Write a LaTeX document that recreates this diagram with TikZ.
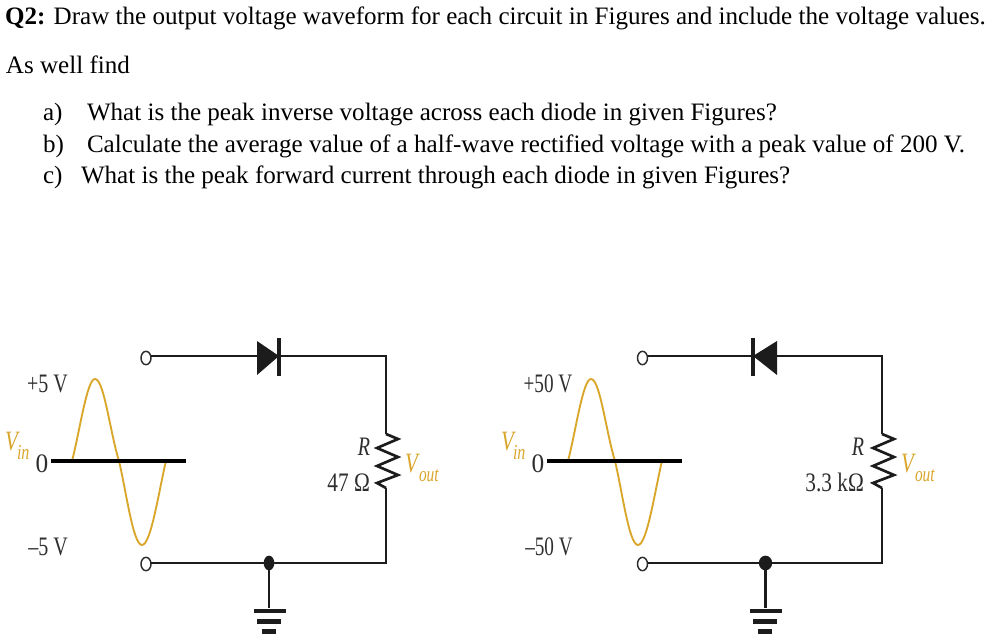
\documentclass[tikz,border=0pt]{standalone}
\usepackage{fontspec}
\setmainfont{Liberation Serif}
\definecolor{gold}{HTML}{D9A62A}
\definecolor{ink}{HTML}{1C1C1C}
\definecolor{lab}{HTML}{2E2E2E}
\newcommand{\nar}[2][.75]{\scalebox{#1}[1]{#2}}
\newcommand{\sinepath}{(72,461) .. controls (80,430) and (87,379) .. (95,379) .. controls (104,379) and (110,432) .. (119,461) .. controls (126,490) and (133,545) .. (142,545) .. controls (151,545) and (159,490) .. (166,461)}
\tikzset{
  every node/.style={inner sep=0pt,outer sep=0pt},
  qtext/.style={anchor=base west,font=\fontsize{18.8}{21}\selectfont,text=black},
  wire/.style={line width=2pt,draw=ink},
  thin wire/.style={line width=1.4pt,draw=ink},
  axis/.style={line width=2.4pt,draw=black},
  wave/.style={line width=1.4pt,draw=gold},
  term/.style={ellipse,draw=lab,fill=white,line width=1.1pt,minimum width=7.5pt,minimum height=10pt},
  junction/.style={ellipse,fill=ink,minimum width=8pt,minimum height=11pt},
  gbar/.style={line width=3.6pt,draw=ink},
  vlabel/.style={font=\fontsize{20}{22}\selectfont,text=lab},
  glabel/.style={font=\fontsize{21}{23}\selectfont\itshape,text=gold,anchor=base west},
  sublabel/.style={font=\fontsize{16}{18}\selectfont\itshape,text=gold,anchor=base west},
  compfill/.style={fill=ink,draw=none}
}
\usetikzlibrary{shapes.geometric}
\begin{document}
\begin{tikzpicture}[x=0.75pt,y=-0.75pt]
\useasboundingbox (0,0) rectangle (989,639);
\fill[white] (0,0) rectangle (989,639);
% text
\node[qtext] (q) at (5,24.5) {\textbf{Q2:} Draw the output voltage waveform for each circuit in Figures and include the voltage values.};
\node[qtext] (asw) at (6,73) {As well find};
\node[qtext] (la) at (43,120) {a)};
\node[qtext] (ta) at (87,120) {What is the peak inverse voltage across each diode in given Figures?};
\node[qtext] (lb) at (43,152) {b)};
\node[qtext] (tb) at (87,152) {Calculate the average value of a half-wave rectified voltage with a peak value of 200 V.};
\node[qtext] (lc) at (43,183) {c)};
\node[qtext] (tc) at (81,183) {What is the peak forward current through each diode in given Figures?};
% left circuit
\node[term] (a1) at (146,358) {};
\node[term] (a2) at (146,564) {};
\coordinate (adl) at (257,356);
\coordinate (adr) at (279,356);
\coordinate (atr) at (386,356);
\coordinate (art) at (386,434);
\coordinate (arb) at (386,488);
\coordinate (abr) at (386,563);
\node[junction] (aj) at (269,563) {};
\coordinate (ag) at (269,608);
\coordinate (az1) at (51,461);
\coordinate (az2) at (186,461);
\draw[wire] (a1.east |- adl) -- (adl);
\fill[compfill] (257,341) -- (279,356) -- (257,375) -- cycle;
\draw[line width=2.4pt,draw=ink] (279,338) -- (279,376);
\draw[wire] (adr) -- (atr) -- (art);
\draw[line width=2pt,draw=ink,line join=miter] (art) -- (398,439) -- (377,448) -- (398,457) -- (377,466) -- (398,475) -- (377,483) -- (arb);
\draw[wire] (arb) -- (abr) -- (aj);
\draw[wire] (aj) -- (a2.east |- aj);
\draw[thin wire] (aj) -- (ag);
\draw[gbar] (254,611) -- (286,611);
\draw[gbar] (257,621.5) -- (281,621.5);
\draw[gbar] (262,631.5) -- (276,631.5);
\draw[wave] \sinepath;
\draw[axis] (az1) -- (az2);
\node[vlabel,anchor=base] (ap) at (47.5,392) {\nar{+5 V}};
\node[vlabel,anchor=base] (am) at (48,555) {\nar{–5 V}};
\node[vlabel,anchor=base] (a0) at (42,472) {\nar[.95]{0}};
\node[glabel] (avin) at (5,450) {\nar{V}};
\node[sublabel] (avins) at (17,459) {\nar{in}};
\node[vlabel,anchor=base east,font=\fontsize{20}{22}\selectfont\itshape] (ar) at (370,455) {\nar{R}};
\node[vlabel,anchor=base east] (ao) at (370,491) {\nar[.8]{47 Ω}};
\node[glabel] (avo) at (405,472) {\nar{V}};
\node[sublabel] (avos) at (419,481) {\nar[.72]{out}};
% right circuit
\begin{scope}[shift={(496,0)}]
\node[term] (b1) at (146.5,358) {};
\node[term] (b2) at (146.5,564) {};
\coordinate (bdl) at (257,356);
\coordinate (bdr) at (281,356);
\coordinate (btr) at (386,356);
\coordinate (brt) at (386,434);
\coordinate (brb) at (386,488);
\coordinate (bbr) at (386,563);
\node[junction,minimum width=10pt] (bj) at (269.5,563) {};
\coordinate (bg) at (269.5,608);
\coordinate (bz1) at (51,461);
\coordinate (bz2) at (186,461);
\draw[wire] (b1.east |- bdl) -- (bdl);
\fill[compfill] (281,341) -- (257,356) -- (281,375) -- cycle;
\draw[line width=2.4pt,draw=ink] (257,338) -- (257,376);
\draw[wire] (bdr) -- (btr) -- (brt);
\draw[line width=2pt,draw=ink,line join=miter] (brt) -- (398,439) -- (377,448) -- (398,457) -- (377,466) -- (398,475) -- (377,483) -- (brb);
\draw[wire] (brb) -- (bbr) -- (bj);
\draw[wire] (bj) -- (b2.east |- bj);
\draw[wire] (bj) -- (bg);
\draw[gbar] (254,611) -- (286,611);
\draw[gbar] (257,621.5) -- (281,621.5);
\draw[gbar] (262,631.5) -- (276,631.5);
\draw[wave] \sinepath;
\draw[axis] (bz1) -- (bz2);
\end{scope}
\node[vlabel,anchor=base] (bp) at (548,392) {\nar[.72]{+50 V}};
\node[vlabel,anchor=base] (bm) at (549,555) {\nar[.72]{–50 V}};
\node[vlabel,anchor=base] (b0) at (538,472) {\nar[.95]{0}};
\node[glabel] (bvin) at (501,450) {\nar{V}};
\node[sublabel] (bvins) at (513,459) {\nar{in}};
\node[vlabel,anchor=base east,font=\fontsize{20}{22}\selectfont\itshape] (br) at (864,455) {\nar{R}};
\node[vlabel,anchor=base east] (bo) at (864,491) {\nar[.8]{3.3 kΩ}};
\node[glabel] (bvo) at (901,472) {\nar{V}};
\node[sublabel] (bvos) at (915,481) {\nar[.72]{out}};
\end{tikzpicture}
\end{document}
